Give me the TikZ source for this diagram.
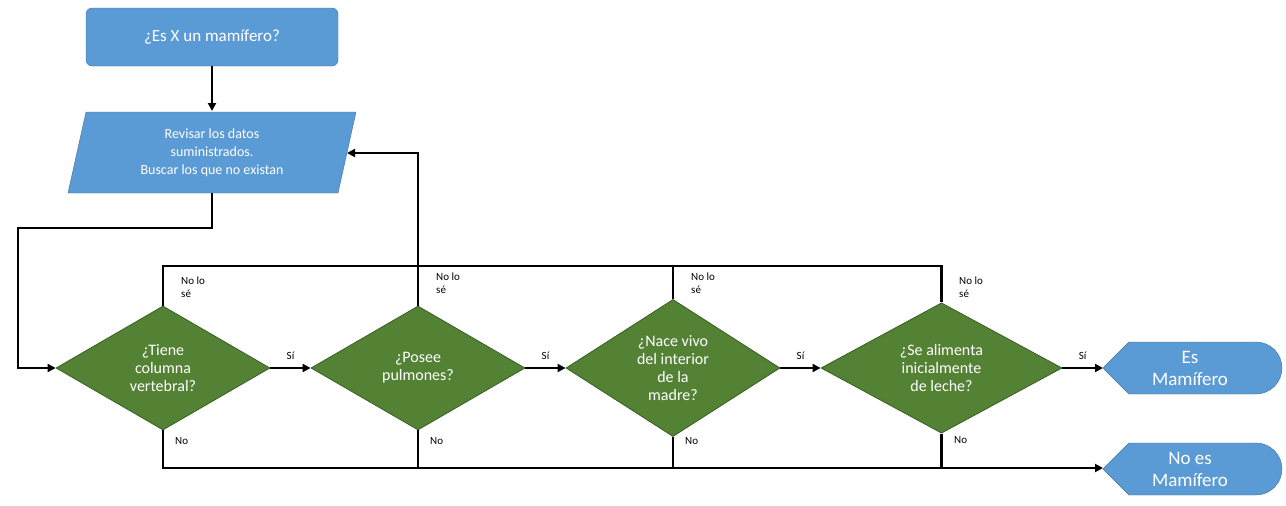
\documentclass[tikz,border=0pt]{standalone}
\usepackage{fontspec}
\setmainfont{Carlito}
\usetikzlibrary{shapes.geometric,arrows.meta}
\definecolor{bl}{HTML}{5B9BD5}
\definecolor{blb}{HTML}{41719C}
\definecolor{gr}{HTML}{548235}
\definecolor{grb}{HTML}{3B5E25}
\begin{document}
\begin{tikzpicture}[x=1pt,y=-1pt,
  dia/.style={diamond,fill=gr,draw=grb,line width=0.8pt,minimum width=214pt,minimum height=124pt,inner sep=0pt,text=white,font=\fontsize{16}{18}\selectfont,align=center},
  conn/.style={line width=2.8pt,line join=miter},
  arr/.style={conn,-{Triangle[length=8pt,width=8pt]}},
  lab/.style={font=\fontsize{11}{13}\selectfont,align=left,inner sep=1pt}]
\useasboundingbox (0,0) rectangle (1286,506);
% start
\node[rounded corners=6pt,fill=bl,draw=blb,minimum width=252pt,minimum height=58pt,text=white,font=\fontsize{17}{20}\selectfont] (start) at (212,37) {¿Es X un mamífero?};
% parallelogram
\fill[bl,draw=blb] (86,112) -- (356,112) -- (338,193) -- (68,193) -- cycle;
\node[text=white,align=center,font=\fontsize{14}{18}\selectfont,minimum width=250pt,minimum height=81pt] (rev) at (212,152.5) {Revisar los datos\\suministrados.\\Buscar los que no existan};
\coordinate (revin) at (347,153);
% diamonds
\node[dia] (d1) at (163,368) {¿Tiene\\columna\\vertebral?};
\node[dia] (d2) at (418,368) {¿Posee\\pulmones?};
\node[dia] (d3) at (673,368) {¿Nace vivo\\del interior\\de la\\madre?};
\node[dia,minimum width=241pt] (d4) at (941.5,368) {¿Se alimenta\\inicialmente\\de leche?};
% terminals
\fill[bl,draw=blb] (1103,368) -- (1129,342) -- (1256,342) arc[start angle=-90,end angle=90,radius=26] -- (1129,394) -- cycle;
\node[text=white,align=center,font=\fontsize{19}{22}\selectfont] (es) at (1190,368) {Es\\Mamífero};
\coordinate (esin) at (1103,368);
\fill[bl,draw=blb] (1103,469) -- (1129,443) -- (1256,443) arc[start angle=-90,end angle=90,radius=26] -- (1129,495) -- cycle;
\node[text=white,align=center,font=\fontsize{19}{22}\selectfont] (noes) at (1190,469) {No es\\Mamífero};
\coordinate (noesin) at (1103,468);
% connectors
\draw[arr] (start.south) -- (212,111);
\coordinate (revout) at (212,193);
\draw[arr] (revout) -- (212,228) -- (18,228) -- (18,368) -- (d1.west);
\draw[arr] (d1.east) -- node[lab,above=6pt]{Sí} (d2.west);
\draw[arr] (d2.east) -- node[lab,above=6pt]{Sí} (d3.west);
\draw[arr] (d3.east) -- node[lab,above=6pt]{Sí} (d4.west);
\draw[arr] (d4.east) -- node[lab,above=6pt]{Sí} (esin);
% no lo se
\draw[arr] (d2.north) -- (418,153) -- (revin);
\draw[conn] (d1.north) -- (163,266) -- (941.5,266) -- (d4.north);
\draw[conn] (d3.north) -- (673,266);
\node[lab,anchor=north west] at (180,276) {No lo\\sé};
\node[lab,anchor=north west] at (435,272) {No lo\\sé};
\node[lab,anchor=north west] at (690,272) {No lo\\sé};
\node[lab,anchor=north west] at (958,276) {No lo\\sé};
% no
\draw[arr] (d1.south) -- (163,468) -- (noesin);
\draw[conn] (d2.south) -- (418,468);
\draw[conn] (d3.south) -- (673,468);
\draw[conn] (d4.south) -- (941.5,468);
\node[lab,anchor=west] at (174,441) {No};
\node[lab,anchor=west] at (429,441) {No};
\node[lab,anchor=west] at (684,441) {No};
\node[lab,anchor=west] at (953,440) {No};
\end{tikzpicture}
\end{document}
